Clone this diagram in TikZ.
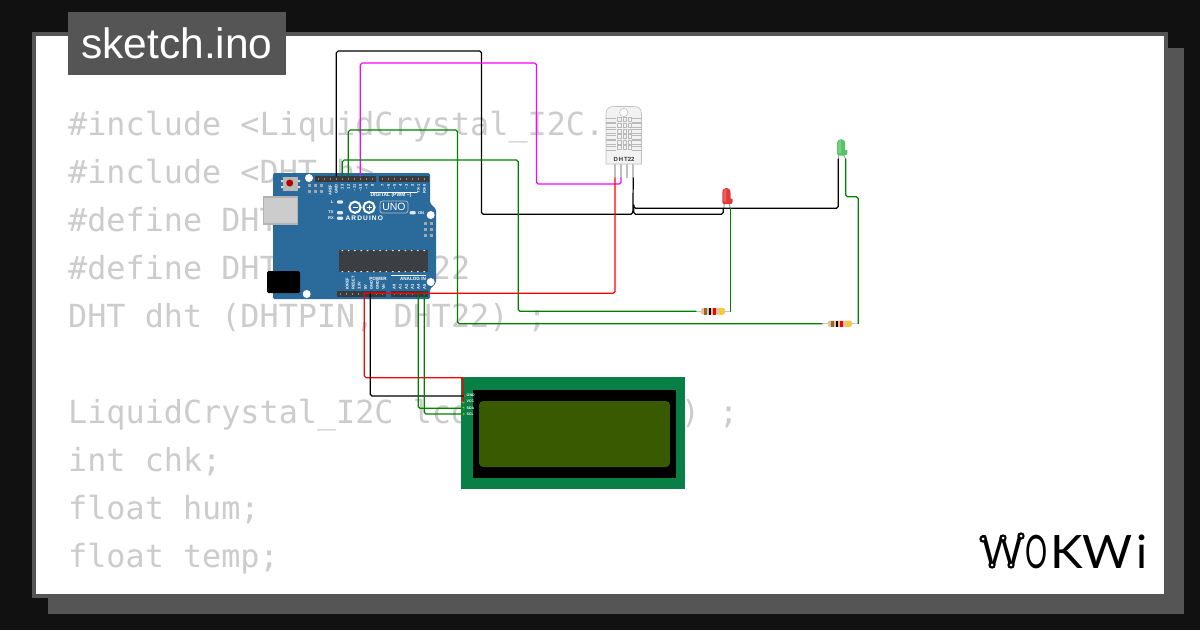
\documentclass[tikz,border=0pt]{standalone}
\usepackage{fontspec}
\usepackage{graphicx}
\setmainfont{Liberation Sans}
\newfontfamily\codefont{DejaVu Sans Mono}
\newfontfamily\logofont{Lato}
\usetikzlibrary{calc}
\definecolor{bgdark}{HTML}{111111}
\definecolor{frameg}{HTML}{555555}
\definecolor{codeg}{HTML}{CCCCCC}
\definecolor{board}{HTML}{2B6B9B}
\definecolor{hdr}{HTML}{3A3A3A}
\definecolor{chipc}{HTML}{3B3E42}
\definecolor{lcdg}{HTML}{087F45}
\definecolor{lcds}{HTML}{3A5A00}
\definecolor{wgreen}{HTML}{008000}
\definecolor{wmag}{HTML}{FF00FF}
\definecolor{wred}{HTML}{FF0000}
\definecolor{skin}{HTML}{E3C49A}
\definecolor{ledr}{HTML}{E23A3A}
\definecolor{ledg}{HTML}{58C266}
\tikzset{
  x=1pt,y=-1pt,
  wire/.style={line width=1.2pt,rounded corners=1.8pt,line cap=round},
  codeline/.style={anchor=base west,inner sep=0pt,text=codeg,font=\codefont\fontsize{31.8}{32}\selectfont},
  tinyw/.style={text=white,inner sep=0pt,font=\bfseries\fontsize{4}{4}\selectfont},
  pinlab/.style={tinyw,rotate=90,anchor=east},
  pinbottom/.style={tinyw,rotate=90,anchor=west},
  hole/.style={circle,fill=white,inner sep=0pt,minimum size=8pt},
  ledleg/.style={line width=1pt,color=gray!70},
}
\newcommand{\resistor}[2]{%
  \draw[line width=1.2pt,gray!45] (#1-6,#2) -- (#1+30,#2);
  \fill[skin,rounded corners=2pt] (#1,#2-3.2) rectangle (#1+24,#2+3.2);
  \fill[brown!80!black] (#1+2.5,#2-3.2) rectangle (#1+5.5,#2+3.2);
  \fill[black] (#1+7.5,#2-3.2) rectangle (#1+10,#2+3.2);
  \fill[red] (#1+12,#2-3.2) rectangle (#1+14.5,#2+3.2);
  \fill[yellow!70!orange] (#1+19,#2-3.2) rectangle (#1+21.5,#2+3.2);
}
\newcommand{\ledshape}[3]{%
  \fill[#3] (#1,#2+15) -- (#1,#2+5) .. controls (#1,#2-1.5) and (#1+8.2,#2-1.5) .. (#1+8.2,#2+5) -- (#1+8.2,#2+11) -- (#1+10.3,#2+11) -- (#1+10.3,#2+14) .. controls (#1+10.3,#2+16) and (#1+9,#2+16.5) .. (#1+7,#2+16.5) -- (#1+1.5,#2+16.5) .. controls (#1+.5,#2+16.5) and (#1,#2+16) .. (#1,#2+15) -- cycle;
  \fill[white,opacity=.2] (#1+1,#2+14) -- (#1+1,#2+5) .. controls (#1+1,#2+2) and (#1+3,#2+1) .. (#1+4,#2+1) -- (#1+4,#2+14) -- cycle;
}
\begin{document}
\begin{tikzpicture}
\useasboundingbox (0,0) rectangle (1200,630);
% frame
\fill[bgdark] (0,0) rectangle (1200,630);
\fill[frameg] (48,48) rectangle (1184,614);
\fill[frameg] (32,32) rectangle (1168,598);
\fill[white] (36,36) rectangle (1164,594);
% code
\node[codeline] (c1) at (68,135) {\#include <LiquidCrystal\_I2C.h>};
\node[codeline] (c2) at (68,183) {\#include <DHT.h>};
\node[codeline] (c3) at (68,231) {\#define DHTPIN 8};
\node[codeline] (c4) at (68,279) {\#define DHTTYPE DHT22};
\node[codeline] (c5) at (68,327) {DHT dht (DHTPIN, DHT22) ;};
\node[codeline] (c7) at (68,423) {LiquidCrystal\_I2C lcd(0x27, 20,4) ;};
\node[codeline] (c8) at (68,471) {int chk;};
\node[codeline] (c9) at (68,519) {float hum;};
\node[codeline] (c10) at (68,567) {float temp;};
% title
\fill[frameg] (68,12) rectangle (286,75);
\node[anchor=base west,inner sep=0pt,text=white,font=\fontsize{42.5}{42.5}\selectfont] (title) at (81,58) {sketch.ino};
% ---------- Arduino
\fill[board,rounded corners=1.5pt] (273,173) -- (430,173) -- (430,203) -- (436,209) -- (436,283) -- (430,289) -- (430,299) -- (273,299) -- cycle;
\fill[gray!60] (263,196) rectangle (298,225);
\fill[gray!40] (264,198) -- (297,198) -- (297,223) -- (264,223) -- cycle;
\fill[black,rounded corners=1.5pt] (267,271) rectangle (300,293);
\fill[gray!55] (283,177) rectangle (298,191);
\fill[gray!30] (281,180) rectangle (283,182) (281,186) rectangle (283,188) (298,180) rectangle (300,182) (298,186) rectangle (300,188);
\fill[red!70!black] (289.7,183) circle (3.5);
\node[hole] (h1) at (309,178) {};
\node[hole] (h2) at (306.7,294) {};
\node[hole] (h3) at (430.7,215) {};
\node[hole] (h4) at (430.7,282) {};
% headers
\fill[hdr] (315,176) rectangle (376,182);
\fill[hdr] (379,176) rectangle (429,182);
\fill[hdr] (337,291) rectangle (386,297);
\fill[hdr] (391,291) rectangle (428,297);
\foreach \i in {0,...,9}{\fill[gray!90] ({318.2+\i*6.03-.7},178.3) rectangle ++(1.4,1.4);}
\foreach \i in {0,...,7}{\fill[gray!90] ({382.4+\i*6.03-.7},178.3) rectangle ++(1.4,1.4);}
\foreach \i in {0,...,7}{\fill[gray!90] ({340.2+\i*6.03-.7},293.3) rectangle ++(1.4,1.4);}
\foreach \i in {0,...,5}{\fill[gray!90] ({394.3+\i*6.03-.7},293.3) rectangle ++(1.4,1.4);}
% ICSP
\foreach \a/\b in {308/184,314/184,320/184,308/189.5,314/189.5,320/189.5,424/222,430/222,424/228,430/228,424/234,430/234}{\fill[gray!70] (\a,\b) rectangle ++(3.4,3.4);}
% top labels
\foreach \t [count=\i from 0] in {AREF,GND,13,12,\textasciitilde 11,\textasciitilde 10,\textasciitilde 9,8}{
  \node[pinlab] (tl\i) at ({330.3+\i*6.03},184.5) {\t};}
\foreach \t [count=\i from 0] in {7,\textasciitilde 6,\textasciitilde 5,4,\textasciitilde 3,2,TX-1,RX-0}{
  \node[pinlab] (tr\i) at ({382.4+\i*6.03},184.5) {\t};}
\draw[white,line width=.5pt] (370,192) -- (417,192);
\node[tinyw,font=\bfseries\fontsize{5}{5}\selectfont] (digital) at (391,195) {DIGITAL (PWM \textasciitilde)};
% logo
\draw[white,line width=2pt] (355,207.3) circle (5.6) (369,207.3) circle (5.6);
\draw[white,line width=.8pt] (352.5,207.3) -- (357.5,207.3) (366.5,207.3) -- (371.5,207.3) (369,204.8) -- (369,209.8);
\node[text=white,inner sep=0pt,font=\bfseries\fontsize{6.6}{6.6}\selectfont] (ard) at (364.3,218.3) {A\,R\,D\,U\,I\,N\,O};
\draw[white!60!board,line width=.7pt,rounded corners=2.5pt] (380,201) rectangle (408,213);
\node[text=white,inner sep=0pt,font=\fontsize{10.5}{10.5}\selectfont] (uno) at (394,207) {UNO};
% leds on board
\foreach \a/\b in {340/202,340/212.7,340/218.3,412.7/212.7}{\fill[white!85!board,rounded corners=1pt] (\a-3,\b-1.6) rectangle (\a+3,\b+1.6);}
\node[tinyw] (lL) at (332,202) {L};
\node[tinyw] (lT) at (331,212.5) {TX};
\node[tinyw] (lR) at (331,218.5) {RX};
\node[tinyw] (lO) at (421,213) {ON};
% chip
\fill[chipc] (339,250) rectangle (428,272);
\fill[black!75] (352.3,260.7) circle (2) (416,260.7) circle (2) (425.7,260.7) circle (2);
\foreach \i in {0,...,13}{\fill[white!80!gray] ({341.5+\i*6.3},250) rectangle ++(1.6,1) ({341.5+\i*6.3},271) rectangle ++(1.6,1);}
% bottom labels
\foreach \t [count=\i from 0] in {IOREF,RESET,3.3V,5V,GND,GND,Vin}{
  \node[pinbottom] (bl\i) at ({347.3+\i*6.03},290) {\t};}
\foreach \t [count=\i from 0] in {A0,A1,A2,A3,A4,A5}{
  \node[pinbottom] (br\i) at ({394.3+\i*6.03},290) {\t};}
\draw[white,line width=.5pt] (391,275.5) -- (426,275.5);
\node[tinyw,font=\bfseries\fontsize{4.6}{4.6}\selectfont] (power) at (378,278.5) {POWER};
\node[tinyw,font=\bfseries\fontsize{4.6}{4.6}\selectfont] (analog) at (413,278.5) {ANALOG IN};
% ---------- DHT22
\foreach \a in {615,621,627,633}{\draw[line width=1.5pt,gray!50] (\a,164) -- (\a,178);}
\filldraw[fill=gray!10,draw=gray!50,line width=.6pt] (606,164) -- (606,114) .. controls (606,108) and (610,106.5) .. (614,106.5) -- (633.5,106.5) .. controls (638,106.5) and (641.5,108) .. (641.5,114) -- (641.5,164) -- cycle;
\draw[gray!55,fill=white,line width=.5pt] (623.7,112.5) circle (4.2);
\foreach \r in {118,123.6,129.2,134.8,140.4,146}{
  \draw[gray!55,line width=.4pt] (606,\r+4) -- (616,\r+4) (606,\r) -- (616,\r) (632,\r+4) -- (641.5,\r+4) (632,\r) -- (641.5,\r);
  \foreach \q in {617.5,622.8,628}{\draw[gray!55,line width=.4pt] (\q,\r-.4) rectangle ++(3.6,4);}
}
\node[inner sep=0pt,text=black!80,font=\bfseries\fontsize{6}{6}\selectfont] (dhtl) at (624,159) {D\,H\,T22};
% ---------- LEDs
\draw[ledleg] (724,203) -- (724,208.3) (729,203) -- (730.3,208.3);
\ledshape{722.3}{187.7}{ledr}
\draw[ledleg] (838.5,154) -- (838.5,159) (843,154) -- (845.7,159);
\ledshape{837}{139}{ledg}
% ---------- Resistors
\resistor{701}{311.3}
\resistor{828}{323.7}
% ---------- LCD
\fill[lcdg] (461,377) rectangle (685,489);
\fill[black] (473,390) rectangle (676,478);
\fill[lcds,rounded corners=4pt] (479,401) rectangle (670,467);
\foreach \y in {396,402,408,414}{\fill[yellow!60!brown] (463.3,\y) circle (1.3);}
\node[tinyw,anchor=west,font=\bfseries\fontsize{3.6}{3.6}\selectfont] (lg) at (466.5,395.5) {GND};
\node[tinyw,anchor=west,font=\bfseries\fontsize{3.6}{3.6}\selectfont] (lv) at (466.5,401.5) {VCC};
\node[tinyw,anchor=west,font=\bfseries\fontsize{3.6}{3.6}\selectfont] (ls) at (466.5,408) {SDA};
\node[tinyw,anchor=west,font=\bfseries\fontsize{3.6}{3.6}\selectfont] (lc) at (466.5,414) {SCL};
% ---------- named pins
\coordinate (unoGND) at (336.3,176);
\coordinate (uno13) at (342.3,176);
\coordinate (uno12) at (348.3,176);
\coordinate (uno10) at (360.3,176);
\coordinate (uno5V) at (364.3,293.3);
\coordinate (unoGNDb) at (370.3,293.3);
\coordinate (unoA4) at (418.3,293.3);
\coordinate (unoA5) at (424.3,293.3);
\coordinate (dhtV) at (615,178);
\coordinate (dhtD) at (621,178);
\coordinate (dhtG) at (633.3,178);
\coordinate (redC) at (723.3,208.3);
\coordinate (redA) at (730.3,208.3);
\coordinate (grnC) at (838.3,159);
\coordinate (grnA) at (845.7,159);
\coordinate (r1L) at (696,311.3);
\coordinate (r1R) at (730.3,311.3);
\coordinate (r2L) at (822,323.7);
\coordinate (r2R) at (858.3,323.7);
\coordinate (lcdG) at (463.3,396);
\coordinate (lcdV) at (463.3,402);
\coordinate (lcdS) at (463.3,408.3);
\coordinate (lcdC) at (463.3,414);
% ---------- wires
\draw[wire,black] (unoGND) -- (336.3,51) -- (481.5,51) -- (481.5,214.3) -- (632.8,214.3) -- (dhtG);
\draw[wire,black] (633.8,205) -- (633.8,214.3) -- (723.3,214.3) -- (redC);
\draw[wire,black] (633.8,205) -- (633.8,208.3) -- (838.3,208.3) -- (grnC);
\draw[wire,wmag] (uno10) -- (360.3,63) -- (536.5,63) -- (536.5,184) -- (621,184) -- (dhtD);
\draw[wire,wgreen] (uno13) -- (342.3,160) -- (518.3,160) -- (518.3,311.3) -- (r1L);
\draw[wire,wgreen] (uno12) -- (348.3,130) -- (457.5,130) -- (457.5,323.7) -- (r2L);
\draw[wire,wgreen] (r1R) -- (redA);
\draw[wire,wgreen] (r2R) -- (858.3,196.7) -- (845.7,196.7) -- (grnA);
\draw[wire,wred] (uno5V) -- (615,293.3) -- (dhtV);
\draw[wire,wred] (uno5V) -- (364.3,377.7) -- (463.3,377.7) -- (lcdV);
\draw[wire,black] (unoGNDb) -- (370.3,396) -- (lcdG);
\draw[wire,wgreen] (unoA4) -- (418.3,408.3) -- (lcdS);
\draw[wire,wgreen] (unoA5) -- (424.3,414) -- (lcdC);
% ---------- logo
\node[anchor=base west,inner sep=0pt,font=\logofont\fontsize{46}{46}\selectfont,text=black] (wok) at (981,568) {\scalebox{.88}[1]{W}\kern 2pt\scalebox{.6}[1]{O}\kern 3pt\scalebox{1.07}[1]{K}\kern 0pt\scalebox{1.05}[1]{W}\kern 4pt i};
\fill[black] (983,539) circle (3.7) (1003,538) circle (3.7) (1021,536) circle (3.7) (992,565) circle (3.7) (1011,565) circle (3.7);
\fill[white] (983,539) circle (1.5) (1003,538) circle (1.5) (1021,536) circle (1.5) (992,565) circle (1.5) (1011,565) circle (1.5);
\end{tikzpicture}
\end{document}
